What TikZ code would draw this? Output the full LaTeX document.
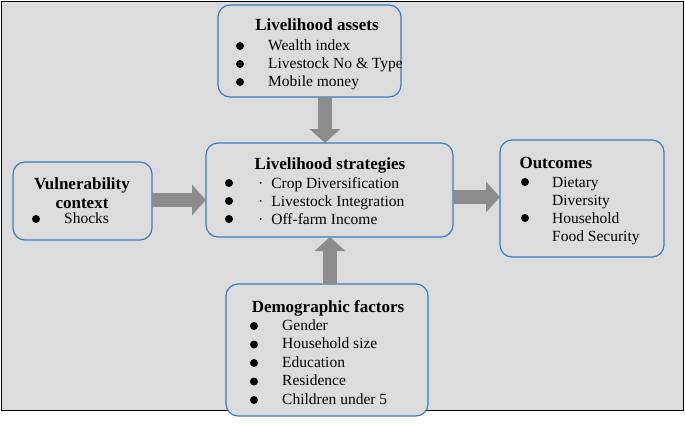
\documentclass[tikz,border=0pt]{standalone}
\usepackage{fontspec}
\setmainfont{Liberation Serif}
\usetikzlibrary{arrows.meta}
\definecolor{bgray}{HTML}{DCDCDC}
\definecolor{bblue}{HTML}{3A7CC0}
\definecolor{agray}{HTML}{8C8C8C}
\tikzset{
  box/.style={draw=bblue, line width=1.2pt, fill=bgray, rounded corners=12pt, inner sep=0pt},
  head/.style={font=\bfseries\fontsize{17}{19}\selectfont, anchor=base},
  item/.style={font=\fontsize{15.5}{17}\selectfont, anchor=base west, inner sep=0pt},
  dot/.style={circle, fill=black, minimum size=8pt, inner sep=0pt},
  blockarrow/.style={draw=agray, line width=14pt, -{Triangle[width=30pt,length=14pt]}}
}
\begin{document}
\begin{tikzpicture}[x=1pt,y=-1pt]
	\useasboundingbox (0,0) rectangle (685,426);
	\draw[fill=bgray, line width=0.8pt] (1.5,1.5) rectangle (683.5,410);
	% boxes
	\node[box, minimum width=183pt, minimum height=92pt] (assets) at (309.5,51) {};
	\node[box, minimum width=247pt, minimum height=94pt] (strat) at (329.5,190) {};
	\node[box, minimum width=139pt, minimum height=78pt] (vuln) at (82.5,201) {};
	\node[box, minimum width=164pt, minimum height=117pt] (outc) at (582,198.5) {};
	\node[box, minimum width=202pt, minimum height=132pt] (demo) at (327,350) {};
	% arrows
	\coordinate (a1) at (325,97); \coordinate (a2) at (325,143);
	\draw[blockarrow] (a1) -- (a2);
	\coordinate (b1) at (330,284); \coordinate (b2) at (330,237);
	\draw[blockarrow] (b1) -- (b2);
	\coordinate (c1) at (152,200); \coordinate (c2) at (206,200);
	\draw[blockarrow] (c1) -- (c2);
	\coordinate (d1) at (453,197); \coordinate (d2) at (500,197);
	\draw[blockarrow] (d1) -- (d2);
	% livelihood assets
	\node[head] (assetsT) at (317,30) {Livelihood assets};
	\foreach \t [count=\i] in {Wealth index, Livestock No \& Type, Mobile money} {
		\node[dot] (ad\i) at (240,{46+18*(\i-1)}) {};
		\node[item] (at\i) at (268,{50+18*(\i-1)}) {\t};
	}
	% livelihood strategies
	\node[head] (stratT) at (330,169) {Livelihood strategies};
	\foreach \t [count=\i] in {Crop Diversification, Livestock Integration, Off-farm Income} {
		\node[dot] (sd\i) at (229,{183+18*(\i-1)}) {};
		\node[item] (st\i) at (258,{188+18*(\i-1)}) {·\hspace{8pt}\t};
	}
	% vulnerability
	\node[head] (vulnT1) at (82,189) {Vulnerability};
	\node[head] (vulnT2) at (82,208) {context};
	\node[dot] (vd1) at (36,219) {};
	\node[item] (vt1) at (64,223) {Shocks};
	% outcomes
	\node[head, anchor=base west] (outcT) at (516,168) {Outcomes};
	\node[dot] (od1) at (525,182) {};
	\node[item] (ot1) at (552,187) {Dietary};
	\node[item] (ot2) at (552,205) {Diversity};
	\node[dot] (od2) at (525,218) {};
	\node[item] (ot3) at (552,223) {Household};
	\node[item] (ot4) at (552,241) {Food Security};
	% demographic factors
	\node[head] (demoT) at (328,312) {Demographic factors};
	\foreach \t [count=\i] in {Gender, Household size, Education, Residence, Children under 5} {
		\node[dot] (dd\i) at (254,{326+18.5*(\i-1)}) {};
		\node[item] (dt\i) at (282,{330+18.5*(\i-1)}) {\t};
	}
\end{tikzpicture}
\end{document}
